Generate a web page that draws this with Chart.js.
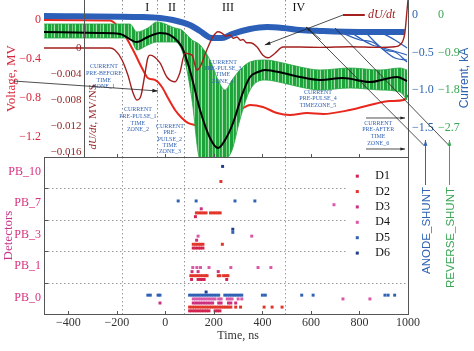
<!DOCTYPE html>
<html lang="en">
<head>
<meta charset="UTF-8">
<title>Pulse and detectors</title>
<script src="https://cdn.jsdelivr.net/npm/chart.js"></script>
<style>
    body { margin: 0; background: #ffffff; }
    .wrap { position: relative; width: 474px; height: 351px; }
    .wrap canvas { position: absolute; left: 0; top: 0; }
</style>
</head>
<body>
<div class="wrap">
    <canvas id="detChart" width="474" height="351"></canvas>
    <canvas id="sigChart" width="474" height="351"></canvas>
</div>
<script>
// ---------- data ----------
const zoneEdges = [-177, -36, 78, 494];
const zoneEdgesLower = [-177, 78, 494];
const romanLabels = ['I', 'II', 'III', 'IV'];
const romanTimes = [-75, 27, 258, 550];

const timeTicks = [-400, -200, 0, 200, 400, 600, 800, 1000];
const voltTicks = [0, -0.4, -0.8, -1.2];
const dudtTicks = [0, -0.004, -0.008, -0.012, -0.016];
const anodeTicks = [0, -0.5, -1.0, -1.5];
const reverseTicks = [0, -0.9, -1.8, -2.7];

// voltage, MV
const voltT = [-500, -228, -174, -133, -92, -72, -43, -14, 11, 40, 68, 93, 122, 163, 246, 307, 349, 402, 460, 514, 584, 650, 761, 843, 926, 983, 1000];
const voltV = [0, -0.005, -0.133, -0.308, -0.513, -0.595, -0.615, -0.687, -0.80, -0.923, -1.005, -1.056, -1.077, -1.087, -0.974, -0.923, -0.872, -0.892, -0.954, -0.974, -0.954, -0.964, -0.923, -0.872, -0.831, -0.82, -0.77];

// dU/dt, MV/ns
const dudtT = [-500, -228, -208, -179, -154, -134, -117, -101, -85, -72, -63, -22, 7, 40, 60, 81, 110, 130, 143, 171, 196, 217, 233, 250, 266, 280, 295, 310, 320, 335, 349, 378, 402, 423, 452, 485, 555, 637, 761, 880, 946, 967, 987, 996, 1000];
const dudtD = [0, 0, -0.0003, -0.0018, -0.0042, -0.0068, -0.0080, -0.0074, -0.0042, -0.0015, -0.0011, -0.0023, -0.0045, -0.0052, -0.0038, -0.0008, -0.0011, -0.0034, -0.0029, -0.0003, 0.0017, 0.0025, 0.0023, 0.0018, 0.0020, 0.0015, 0.0017, 0.0012, 0.0013, 0.0008, 0.0008, 0.00015, -0.0011, -0.0015, -0.0008, 0.00015, 0.00015, 0.0001, 0.0002, 0.0001, 0.0002, 0.0005, 0.0023, 0.0058, 0.0074];

// anode shunt current, kA
const anodeT = [-500, -105, -22, 31, 101, 143, 192, 233, 275, 349, 419, 485, 555, 637, 802, 987];
const anodeI = [-0.013, -0.027, -0.04, -0.067, -0.133, -0.213, -0.307, -0.307, -0.253, -0.187, -0.16, -0.173, -0.2, -0.213, -0.227, -0.227];
const fan1T = [761, 852, 885, 996];
const fan1I = [-0.227, -0.4, -0.427, -0.533];
const fan2T = [823, 905, 946, 996];
const fan2I = [-0.227, -0.467, -0.493, -0.627];
const fan3T = [720, 802, 852, 946, 996];
const fan3I = [-0.227, -0.333, -0.36, -0.573, -0.6];
const fan4T = [885, 946, 996];
const fan4I = [-0.227, -0.333, -0.44];

// reverse shunt current, kA (noise band and its mean)
const greenT = [-500, -146, -117, -72, -35, 40, 68, 89, 110, 143, 184, 217, 246, 275, 307, 349, 411, 485, 555, 637, 761, 885, 967, 996];
const greenHigh = [-0.216, -0.216, -0.408, -0.312, -0.168, -0.312, -0.36, -0.48, -0.6, -0.72, -1.08, -1.56, -1.8, -1.56, -1.32, -1.128, -1.08, -1.152, -1.248, -1.32, -1.272, -1.32, -1.272, -1.32];
const greenLow = [-0.552, -0.552, -0.84, -0.72, -0.648, -0.648, -0.84, -1.32, -2.04, -3.45, -3.45, -3.45, -3.45, -3.24, -2.52, -1.8, -1.56, -1.632, -1.728, -1.8, -1.752, -1.8, -1.848, -2.04];
const blackT = [-500, -270, -187, -117, -72, -22, 19, 68, 101, 143, 184, 217, 246, 279, 316, 349, 382, 411, 485, 555, 637, 732, 843, 954, 996];
const blackI = [-0.408, -0.432, -0.456, -0.648, -0.528, -0.432, -0.48, -0.768, -1.32, -2.28, -2.952, -3.192, -3.0, -2.592, -1.92, -1.488, -1.368, -1.32, -1.392, -1.488, -1.56, -1.512, -1.608, -1.488, -1.584];

// detector hits: one list of times per band (PB_0, PB_1, PB_3, PB_7, PB_10)
const bandNames = ['PB_0', 'PB_1', 'PB_3', 'PB_7', 'PB_10'];
const detNames = ['D1', 'D2', 'D3', 'D4', 'D5', 'D6'];
const d1Times = [
    [100, 110, 120, 130, 140, 150, 160, 170, 180, 205, 215, 225],
    [108, 135, 145, 150, 160, 253],
    [115, 125, 135, 145, 155],
    [124],
    []
];
const d2Times = [
    [100, 110, 120, 130, 140, 150, 160, 170, 180, 190, 200, 210, 220, 230, 240, 250, 260, 270, 290, 310, 407, 440, 481],
    [105, 115, 125, 135, 145, 155, 165, 172, 218, 225, 240, 250, 258],
    [115, 125, 135, 145, 155, 235],
    [128, 138, 148, 158, 168, 186, 196, 206, 216, 226],
    [229]
];
const d3Times = [
    [-22, 115, 125, 135, 145, 155, 165, 175, 185, 195, 220, 230, 260, 270, 290],
    [110, 135, 218],
    [129],
    [148],
    []
];
const d4Times = [
    [115, 125, 135, 145, 155, 165, 175, 185, 195, 205, 220, 230, 255, 265, 275, 300, 315, 732, 843],
    [113, 130, 145, 180, 270, 382, 435],
    [135, 356],
    [695],
    []
];
const d5Times = [
    [-72, -62, -30, -22, 100, 110, 120, 130, 140, 150, 160, 170, 180, 190, 200, 210, 220, 245, 255, 265, 275, 285, 295, 305, 315, 400, 412, 562, 609, 905, 918, 945],
    [],
    [278],
    [53, 127, 287, 369],
    []
];
const d6Times = [
    [168],
    [],
    [278],
    [],
    [236]
];

// ---------- helpers ----------
const SERIF = '"Liberation Serif", "DejaVu Serif", serif';
const SANS = '"Liberation Sans", "DejaVu Sans", sans-serif';
Chart.defaults.font.family = SERIF;

const detColors = ['#d2234f', '#e2352a', '#cc2f7e', '#d958a8', '#2f62b5', '#223c8c'];
const detOffsets = [0.10, 0.22, 0.35, 0.48, 0.60, 0.70];
const dudtAxisTime = -335;

const pairs = (ts, vs) => ts.map((t, i) => ({ x: t, y: vs[i] }));
const fmt = (v, d) => v === 0 ? '0' : (v < 0 ? '\u2212' : '') + Math.abs(v).toFixed(d);

// hatched fill that stands in for the noisy reverse-shunt trace
function noiseFill() {
    const cols = ['#1ea23a', '#1ea23a', '#7ccf88', '#1ea23a', '#2fb04a', '#a9e0b0', '#1ea23a'];
    const pc = document.createElement('canvas');
    pc.width = cols.length;
    pc.height = 1;
    const pctx = pc.getContext('2d');
    cols.forEach((c, i) => { pctx.fillStyle = c; pctx.fillRect(i, 0, 1, 1); });
    return pctx.createPattern(pc, 'repeat');
}

function seg(ctx, x0, y0, x1, y1) {
    ctx.beginPath();
    ctx.moveTo(x0, y0);
    ctx.lineTo(x1, y1);
    ctx.stroke();
}
function arrow(ctx, x0, y0, x1, y1, size) {
    seg(ctx, x0, y0, x1, y1);
    const ang = Math.atan2(y1 - y0, x1 - x0);
    ctx.beginPath();
    ctx.moveTo(x1, y1);
    ctx.lineTo(x1 - size * Math.cos(ang - 0.32), y1 - size * Math.sin(ang - 0.32));
    ctx.lineTo(x1 - size * Math.cos(ang + 0.32), y1 - size * Math.sin(ang + 0.32));
    ctx.closePath();
    ctx.fill();
}
function textBlock(ctx, lines, cx, cy, lh) {
    lines.forEach((s, i) => ctx.fillText(s, cx, cy + i * lh));
}
function hits(times, k) {
    const pts = [];
    times.forEach((list, band) => list.forEach(t => pts.push({ x: t, y: band + detOffsets[k] })));
    return pts;
}
// axes must not push the plot area around for their end labels
function fixSize(prop, size) {
    return s => {
        s[prop] = size;
        s.paddingTop = 0; s.paddingBottom = 0; s.paddingLeft = 0; s.paddingRight = 0;
    };
}

// ---------- upper panel decorations ----------
const sigDecor = {
    id: 'sigDecor',
    beforeDatasetsDraw(chart) {
        const { ctx, chartArea: a, scales: { x } } = chart;
        ctx.save();
        ctx.strokeStyle = '#8c8c8c';
        ctx.lineWidth = 1;
        ctx.setLineDash([1.5, 2.5]);
        zoneEdges.forEach(t => {
            const p = Math.round(x.getPixelForValue(t)) + 0.5;
            seg(ctx, p, a.top, p, a.bottom);
        });
        ctx.restore();
    },
    afterDraw(chart) {
        const { ctx, chartArea: a, scales: { x, yV, yD } } = chart;
        const px = t => x.getPixelForValue(t);
        const pv = v => yV.getPixelForValue(v);
        ctx.save();

        // frame + inward time ticks
        ctx.strokeStyle = '#555';
        ctx.lineWidth = 1;
        seg(ctx, a.left, a.bottom + 0.5, a.right + 1, a.bottom + 0.5);
        seg(ctx, a.right + 0.5, a.top, a.right + 0.5, a.bottom);
        timeTicks.forEach(t => {
            const p = Math.round(px(t)) + 0.5;
            seg(ctx, p, a.bottom, p, a.bottom - 3);
        });

        // inner dU/dt axis
        const ax = Math.round(px(dudtAxisTime)) + 0.5;
        seg(ctx, ax, a.top, ax, a.bottom);
        ctx.fillStyle = '#8f1d1d';
        ctx.font = '11px ' + SERIF;
        ctx.textAlign = 'right';
        ctx.textBaseline = 'middle';
        dudtTicks.forEach(v => ctx.fillText(fmt(v, 3), ax - 3, yD.getPixelForValue(v)));
        ctx.save();
        ctx.translate(ax + 9, yD.getPixelForValue(-0.0106));
        ctx.rotate(-Math.PI / 2);
        ctx.textAlign = 'left';
        ctx.font = 'italic 11px ' + SERIF;
        const p1 = 'dU/dt';
        const w1 = ctx.measureText(p1).width;
        ctx.font = '11px ' + SERIF;
        const p2 = ', MV/NS';
        const w2 = ctx.measureText(p2).width;
        ctx.font = 'italic 11px ' + SERIF;
        ctx.fillText(p1, -(w1 + w2) / 2, 0);
        ctx.font = '11px ' + SERIF;
        ctx.fillText(p2, -(w1 + w2) / 2 + w1, 0);
        ctx.restore();

        // roman zone numbers
        ctx.fillStyle = '#111';
        ctx.font = '12px ' + SERIF;
        ctx.textAlign = 'center';
        romanLabels.forEach((r, i) => ctx.fillText(r, px(romanTimes[i]), pv(0.12)));

        // zone captions
        ctx.fillStyle = '#3565b5';
        ctx.font = '6px ' + SERIF;
        textBlock(ctx, ['CURRENT', 'PRE-BEFORE', 'TIME', 'ZONE_1'], px(-253), pv(-0.48), 6.7);
        textBlock(ctx, ['CURRENT', 'PRE-PULSE_1', 'TIME', 'ZONE_2'], px(-113), pv(-0.92), 6.7);
        textBlock(ctx, ['CURRENT', 'PRE-', 'PULSE_2', 'TIME', 'ZONE_3'], px(19), pv(-1.09), 6.4);
        textBlock(ctx, ['CURRENT', 'PRE-PULSE_3', 'TIME', 'ZONE_4'], px(237), pv(-0.43), 6.4);
        textBlock(ctx, ['CURRENT', 'PRE-PULSE_4', 'TIMEZONE_5'], px(629), pv(-0.74), 6.4);
        textBlock(ctx, ['CURRENT', 'PRE-AFTER', 'TIME', 'ZONE_6'], px(877), pv(-1.056), 6.7);

        // pointers
        ctx.strokeStyle = '#222';
        ctx.fillStyle = '#222';
        ctx.lineWidth = 0.8;
        arrow(ctx, px(-624), pv(-0.626), px(-30), pv(-0.728), 6);
        arrow(ctx, px(732), pv(0.051), px(410), pv(-0.256), 6);
        arrow(ctx, px(827), pv(-1.005), px(988), pv(-1.005), 5);
        arrow(ctx, px(827), pv(-1.323), px(988), pv(-1.323), 5);
        seg(ctx, px(1068), pv(-1.292), px(580), pv(-0.072));
        arrow(ctx, px(640), pv(-0.2), px(580), pv(-0.072), 5);
        seg(ctx, px(1171), pv(-1.292), px(699), pv(-0.082));

        // dU/dt legend entry
        ctx.strokeStyle = '#a3201f';
        ctx.lineWidth = 2;
        seg(ctx, px(732), pv(0.051), px(822), pv(0.051));
        ctx.fillStyle = '#9b1c1c';
        ctx.font = 'italic 12px ' + SERIF;
        ctx.textAlign = 'left';
        ctx.fillText('dU/dt', px(835), pv(0.051));

        // current axis title
        ctx.save();
        ctx.translate(a.right + 57, a.top + 78);
        ctx.rotate(-Math.PI / 2);
        ctx.textAlign = 'center';
        ctx.fillStyle = '#2f64b3';
        ctx.font = '12px ' + SANS;
        ctx.fillText('Current, kA', 0, 0);
        ctx.restore();

        // shunt markers
        const shunts = [
            { t: 1068, name: 'ANODE_SHUNT', color: '#2f64b3' },
            { t: 1171, name: 'REVERSE_SHUNT', color: '#3aa655' }
        ];
        shunts.forEach(s => {
            const sx = Math.round(px(s.t)) + 0.5;
            ctx.strokeStyle = s.color;
            ctx.fillStyle = s.color;
            ctx.lineWidth = 1;
            arrow(ctx, sx, pv(-1.6923), sx, pv(-1.2308), 6);
            ctx.save();
            ctx.translate(sx + 1, pv(-1.7128));
            ctx.rotate(-Math.PI / 2);
            ctx.textAlign = 'right';
            ctx.font = '11.5px ' + SANS;
            ctx.fillText(s.name, 0, 0);
            ctx.restore();
        });
        ctx.restore();
    }
};

// ---------- lower panel decorations ----------
const detDecor = {
    id: 'detDecor',
    beforeDatasetsDraw(chart) {
        const { ctx, chartArea: a, scales: { x, y } } = chart;
        ctx.save();
        ctx.strokeStyle = '#9a9a9a';
        ctx.lineWidth = 1;
        ctx.setLineDash([1.5, 2.5]);
        [1, 2, 3, 4].forEach(b => {
            const p = Math.round(y.getPixelForValue(b)) + 0.5;
            seg(ctx, a.left, p, a.right, p);
        });
        zoneEdgesLower.forEach(t => {
            const p = Math.round(x.getPixelForValue(t)) + 0.5;
            seg(ctx, p, a.top, p, a.bottom);
        });
        ctx.restore();
    },
    afterDraw(chart) {
        const { ctx, chartArea: a, scales: { x, y } } = chart;
        ctx.save();
        // legend box
        const lx0 = x.getPixelForValue(752), lx1 = x.getPixelForValue(996);
        const ly0 = y.getPixelForValue(4.66), ly1 = y.getPixelForValue(1.64);
        ctx.fillStyle = '#ffffff';
        ctx.fillRect(lx0, ly0, lx1 - lx0, ly1 - ly0);
        ctx.font = '12px ' + SERIF;
        ctx.textAlign = 'left';
        ctx.textBaseline = 'middle';
        detNames.forEach((n, i) => {
            const yy = y.getPixelForValue(4.39 - 0.49 * i);
            ctx.fillStyle = detColors[i];
            ctx.fillRect(x.getPixelForValue(791) - 1.5, yy - 1.5, 3, 3);
            ctx.fillStyle = '#111';
            ctx.fillText(n, x.getPixelForValue(865), yy);
        });

        // frame
        ctx.strokeStyle = '#555';
        ctx.lineWidth = 1;
        ctx.strokeRect(a.left + 0.5, a.top + 0.5, a.right - a.left, a.bottom - a.top);
        timeTicks.forEach(t => {
            const p = Math.round(x.getPixelForValue(t)) + 0.5;
            seg(ctx, p, a.bottom, p, a.bottom - 3);
        });
        [1, 2, 3, 4].forEach(b => {
            const p = Math.round(y.getPixelForValue(b)) + 0.5;
            seg(ctx, a.left, p, a.left + 4, p);
        });

        // axis title
        ctx.fillStyle = '#333';
        ctx.font = '12px ' + SERIF;
        ctx.textAlign = 'center';
        ctx.fillText('Time, ns', x.getPixelForValue(300), a.bottom + 22);
        ctx.restore();
    }
};

const noGrid = { display: false, drawTicks: false };
const noBorder = { display: false };

// ---------- lower chart: detector hits ----------
new Chart(document.getElementById('detChart'), {
    type: 'scatter',
    data: {
        datasets: [d1Times, d2Times, d3Times, d4Times, d5Times, d6Times].map((times, k) => ({
            label: detNames[k],
            data: hits(times, k),
            pointStyle: 'rect',
            pointRadius: 2.1,
            pointBorderWidth: 0,
            backgroundColor: detColors[k],
            borderColor: detColors[k]
        }))
    },
    options: {
        responsive: false,
        animation: false,
        events: [],
        layout: { padding: { top: 157, right: 66, left: 0, bottom: 0 } },
        plugins: { legend: { display: false }, tooltip: { enabled: false } },
        scales: {
            x: {
                type: 'linear', min: -500, max: 1000,
                afterBuildTicks: s => { s.ticks = timeTicks.map(v => ({ value: v })); },
                afterFit: fixSize('height', 37),
                ticks: { color: '#333', padding: 2, font: { size: 12 }, callback: v => fmt(v, 0) },
                grid: noGrid, border: noBorder
            },
            y: {
                type: 'linear', min: 0, max: 5,
                afterBuildTicks: s => { s.ticks = bandNames.map((n, i) => ({ value: i + 0.53 })); },
                afterFit: fixSize('width', 44),
                ticks: { color: '#d6317f', padding: 3, font: { size: 12 }, callback: (v, i) => bandNames[i] },
                title: { display: true, text: 'Detectors', color: '#c8338c', font: { size: 13 }, padding: { top: 1, bottom: 0 } },
                grid: noGrid, border: noBorder
            }
        }
    },
    plugins: [detDecor]
});

// ---------- upper chart: pulse signals ----------
const lineSet = (label, ts, vs, axis, color, width, order) => ({
    label, data: pairs(ts, vs), yAxisID: axis,
    borderColor: color, borderWidth: width, order, fill: false
});

new Chart(document.getElementById('sigChart'), {
    type: 'line',
    data: {
        datasets: [
            lineSet('Voltage', voltT, voltV, 'yV', '#e8271d', 2, 6),
            lineSet('Reverse low', greenT, greenLow, 'yG', '#25a641', 0.8, 5),
            Object.assign(lineSet('Reverse high', greenT, greenHigh, 'yG', '#25a641', 0.8, 5), { fill: '-1', backgroundColor: noiseFill() }),
            lineSet('Reverse mean', blackT, blackI, 'yG', '#000000', 2, 3),
            lineSet('Anode', anodeT, anodeI, 'yB', '#2b5fb8', 6, 2),
            lineSet('Anode 2', fan1T, fan1I, 'yB', '#2b5fb8', 1.2, 2),
            lineSet('Anode 3', fan2T, fan2I, 'yB', '#2b5fb8', 1.2, 2),
            lineSet('Anode 4', fan3T, fan3I, 'yB', '#2b5fb8', 1.2, 2),
            lineSet('Anode 5', fan4T, fan4I, 'yB', '#2b5fb8', 1.2, 2),
            lineSet('dU/dt', dudtT, dudtD, 'yD', '#a3201f', 1.4, 1)
        ]
    },
    options: {
        responsive: false,
        animation: false,
        events: [],
        layout: { padding: { top: 0, bottom: 194, left: 0, right: 0 } },
        elements: { point: { radius: 0 }, line: { cubicInterpolationMode: 'monotone' } },
        plugins: { legend: { display: false }, tooltip: { enabled: false } },
        scales: {
            x: { type: 'linear', min: -500, max: 1000, display: false },
            yV: {
                position: 'left', min: -1.4051, max: 0.2051,
                afterBuildTicks: s => { s.ticks = voltTicks.map(v => ({ value: v })); },
                afterFit: fixSize('width', 44),
                ticks: { color: '#d8263c', padding: 3, font: { size: 12 }, callback: v => fmt(v, 1) },
                title: { display: true, text: 'Voltage, MV', color: '#d8263c', font: { size: 13 }, padding: { top: 4, bottom: 0 } },
                grid: noGrid, border: noBorder
            },
            yD: { position: 'left', display: false, min: -0.016769, max: 0.007385 },
            yB: {
                position: 'right', weight: 0, min: -1.8933, max: 0.2,
                afterBuildTicks: s => { s.ticks = anodeTicks.map(v => ({ value: v })); },
                afterFit: fixSize('width', 26),
                ticks: { color: '#2f64b3', padding: 4, font: { size: 12 }, callback: v => fmt(v, 1) },
                grid: noGrid, border: noBorder
            },
            yG: {
                position: 'right', weight: 1, min: -3.408, max: 0.36,
                afterBuildTicks: s => { s.ticks = reverseTicks.map(v => ({ value: v })); },
                afterFit: fixSize('width', 40),
                ticks: { color: '#3aa655', padding: 4, font: { size: 12 }, callback: v => fmt(v, 1) },
                grid: noGrid, border: noBorder
            }
        }
    },
    plugins: [sigDecor]
});
</script>
</body>
</html>
